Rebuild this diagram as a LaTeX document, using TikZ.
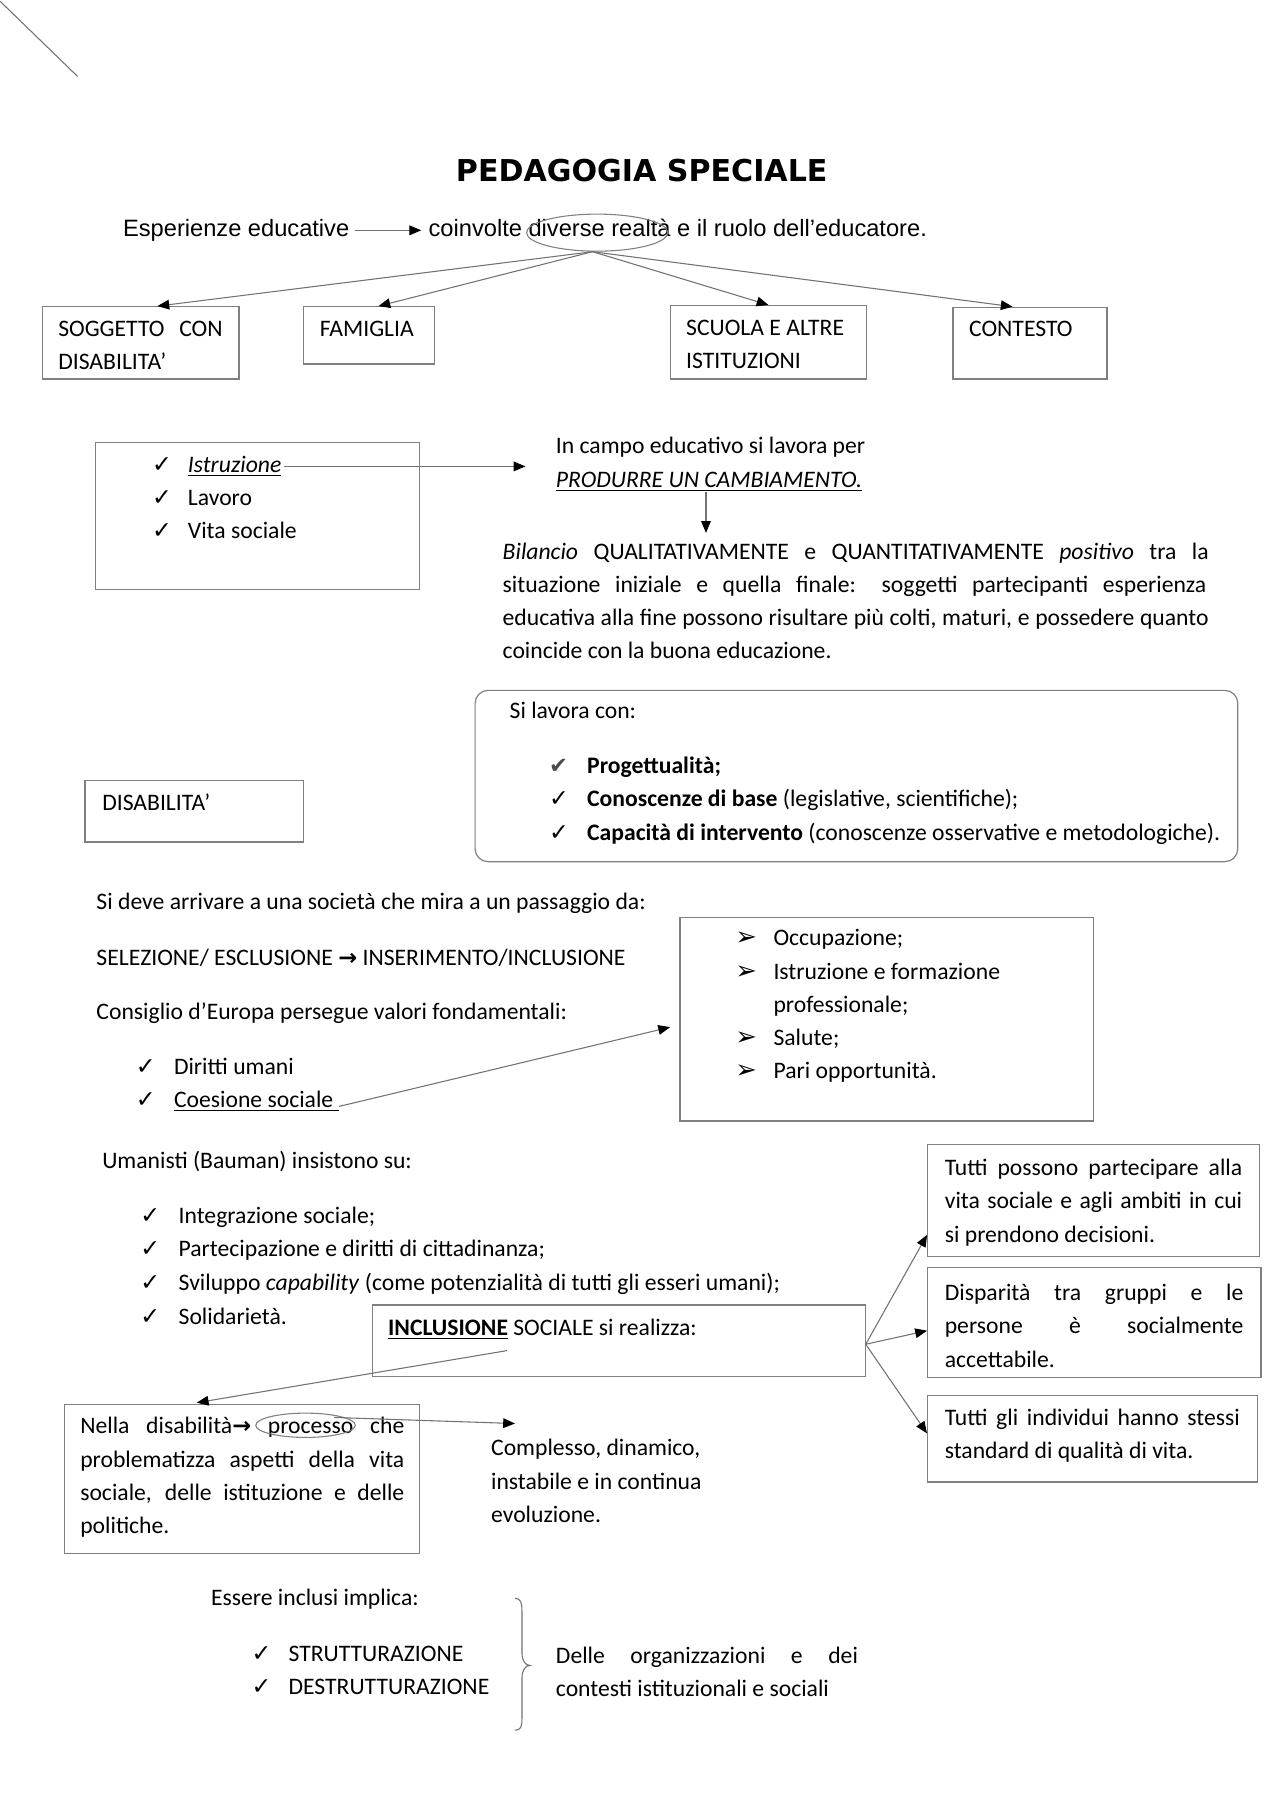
\documentclass[tikz,border=0pt]{standalone}
\usepackage{fontspec}
\setmainfont{Carlito}
\newfontfamily\arialf{Liberation Sans}
\newfontfamily\djv{DejaVu Sans}
\usetikzlibrary{arrows.meta,calc,shapes.geometric}
\newlength\pxu \setlength\pxu{0.53823pt}
\newcommand\jl[2]{\makebox[#1\pxu][s]{#2}}
\newcommand\mychk{{\djv\fontsize{11pt}{12pt}\selectfont ✓}}
\newcommand\mychkb{{\djv\fontsize{10.5pt}{12pt}\selectfont\color{black!70}✔}}
\newcommand\mybul{{\djv\fontsize{12pt}{12pt}\selectfont ➢}}
\newcommand\myarr{{\djv\bfseries\fontsize{10.5pt}{10pt}\selectfont →}}
\tikzset{
  txt/.style={inner sep=0pt, anchor=base west, font=\fontsize{11pt}{15.4pt}\selectfont},
  boxst/.style={draw=black!50, line width=0.55pt, inner sep=0pt, anchor=north west},
  arr/.style={draw=black!55, line width=0.5pt, -{Triangle[length=5.5pt,width=4.5pt,color=black]}},
  plainline/.style={draw=black!55, line width=0.5pt},
}
\begin{document}
\begin{tikzpicture}[x=0.53823pt, y=-0.53823pt]
\useasboundingbox[fill=white] (0,0) rectangle (1106,1564.8);

% corner mark
\coordinate (cm1) at (0,1);
\coordinate (cm2) at (67,66);
\draw[plainline] (cm1) -- (cm2);

% title
\node[inner sep=0pt, anchor=base, font=\djv\bfseries\fontsize{14pt}{17pt}\selectfont] (title) at (554.5,157) {PEDAGOGIA SPECIALE};

% first line
\node[txt, font=\arialf\fontsize{11pt}{13pt}\selectfont] (esp) at (106,204) {Esperienze educative};
\node[txt, font=\arialf\fontsize{11pt}{13pt}\selectfont] (coin) at (370,204) {coinvolte diverse realtà e il ruolo dell’educatore.};
\draw[arr] ($(esp.base east)+(5,-5)$) -- ($(coin.base west)+(-6,-5)$);
\node[draw=black!50, line width=0.5pt, ellipse, minimum width=122\pxu, minimum height=32\pxu, inner sep=0pt] (ell) at (516,201) {};

% four boxes
\node[boxst, minimum width=170\pxu, minimum height=62.5\pxu] (b1) at (36,264.5) {};
\node[boxst, minimum width=113\pxu, minimum height=49.5\pxu] (b2) at (262,264.5) {};
\node[boxst, minimum width=169\pxu, minimum height=63.5\pxu] (b3) at (579,263.5) {};
\node[boxst, minimum width=133\pxu, minimum height=62\pxu] (b4) at (823,265) {};
\node[txt] (t1) at (50,291) {\parbox[t]{142\pxu}{\jl{142}{SOGGETTO CON}\\DISABILITA’}};
\node[txt] (t2) at (276,291) {FAMIGLIA};
\node[txt] (t3) at (592.5,290) {\parbox[t]{150\pxu}{SCUOLA E ALTRE\\ISTITUZIONI}};
\node[txt] (t4) at (837,291) {CONTESTO};
\coordinate (fan) at ($(ell.south)+(-4,0)$);
\draw[arr] (fan) -- ($(b1.north west)+(100,0)$);
\draw[arr] (fan) -- ($(b2.north west)+(65,0)$);
\draw[arr] (fan) -- ($(b3.north west)+(85,0)$);
\draw[arr] (fan) -- ($(b4.north west)+(52,0)$);

% Istruzione box
\node[boxst, minimum width=280\pxu, minimum height=127\pxu] (bist) at (82,382) {};
\node[txt] (c1) at (131,408) {\mychk};
\node[txt] (c2) at (131,437) {\mychk};
\node[txt] (c3) at (131,465) {\mychk};
\node[txt] (istr) at (162,408) {\underline{\textit{Istruzione}}};
\node[txt] (lav) at (162,437) {Lavoro};
\node[txt] (vita) at (162,465) {Vita sociale};

\node[txt] (campo) at (480,392) {In campo educativo si lavora per};
\node[txt] (prod) at (480,421) {\underline{\textit{PRODURRE UN CAMBIAMENTO.}}};
\draw[arr] ($(istr.base east)+(2,-5)$) -- ($(campo.base west)+(-26,11)$);
\node[txt] (bil) at (434,483) {\parbox[t]{620\pxu}{%
\jl{610}{\textit{Bilancio} QUALITATIVAMENTE e QUANTITATIVAMENTE \textit{positivo} tra la}\\
\jl{608}{situazione iniziale e quella finale: soggetti partecipanti esperienza}\\
\jl{610}{educativa alla fine possono risultare più colti, maturi, e possedere quanto}\\
coincide con la buona educazione.}};
\draw[arr] ($(prod.base west)+(130,4)$) -- ($(bil.north west)+(176,-8)$);

% rounded box
\node[boxst, rounded corners=6pt, minimum width=659\pxu, minimum height=148\pxu] (brd) at (410,596) {};
\node[txt] (silav) at (440,621) {Si lavora con:};
\node[txt] (k1) at (474,668) {\mychkb};
\node[txt] (k2) at (474,697) {\mychk};
\node[txt] (k3) at (474,726) {\mychk};
\node[txt] (p1) at (507,668) {\textbf{Progettualità;}};
\node[txt] (p2) at (507,697) {\textbf{Conoscenze di base} (legislative, scientifiche);};
\node[txt] (p3) at (507,726) {\textbf{Capacità di intervento} (conoscenze osservative e metodologiche).};

% disabilita box
\node[boxst, minimum width=189\pxu, minimum height=53\pxu] (bdis) at (73,674) {};
\node[txt] (tdis) at (88,700) {DISABILITA’};

% societa
\node[txt] (sideve) at (83,786) {Si deve arrivare a una società che mira a un passaggio da:};
\node[txt] (selez) at (83,834) {SELEZIONE/ ESCLUSIONE \myarr{} INSERIMENTO/INCLUSIONE};
\node[txt] (consi) at (83,881) {Consiglio d’Europa persegue valori fondamentali:};
\node[txt] (d1) at (117,928) {\mychk};
\node[txt] (d2) at (117,957) {\mychk};
\node[txt] (dir) at (150,928) {Diritti umani};
\node[txt] (coes) at (150,957) {\underline{Coesione sociale\ }};

% occupazione box
\node[boxst, minimum width=357\pxu, minimum height=176\pxu] (bocc) at (587,792) {};
\node[txt] (o1) at (635,817) {\mybul};
\node[txt] (o2) at (635,846) {\mybul};
\node[txt] (o4) at (635,903) {\mybul};
\node[txt] (o5) at (635,932) {\mybul};
\node[txt] (occ) at (668,817) {Occupazione;};
\node[txt] (istf) at (668,846) {\parbox[t]{250\pxu}{Istruzione e formazione\\professionale;}};
\node[txt] (sal) at (668,903) {Salute;};
\node[txt] (pari) at (668,932) {Pari opportunità.};
\draw[arr] ($(coes.base east)+(0,-1)$) -- ($(bocc.west)+(-8,7)$);

% umanisti
\node[txt] (uman) at (88,1010) {Umanisti (Bauman) insistono su:};
\node[txt] (u1) at (121,1057) {\mychk};
\node[txt] (u2) at (121,1086) {\mychk};
\node[txt] (u3) at (121,1115) {\mychk};
\node[txt] (u4) at (121,1144) {\mychk};
\node[txt] (int) at (154,1057) {Integrazione sociale;};
\node[txt] (part) at (154,1086) {Partecipazione e diritti di cittadinanza;};
\node[txt] (svil) at (154,1115) {Sviluppo \textit{capability} (come potenzialità di tutti gli esseri umani);};
\node[txt] (soli) at (154,1144) {Solidarietà.};

% inclusione box
\node[boxst, minimum width=426\pxu, minimum height=62\pxu] (bincl) at (321,1127) {};
\node[txt] (incl) at (335,1154) {\textbf{\underline{INCLUSIONE}} SOCIALE si realizza:};

% right boxes
\node[boxst, minimum width=287\pxu, minimum height=96.5\pxu] (ba) at (801,988.5) {};
\node[boxst, minimum width=288\pxu, minimum height=94.5\pxu] (bb) at (801,1095) {};
\node[boxst, minimum width=285\pxu, minimum height=75\pxu] (bc) at (801,1205) {};
\node[txt] (ta) at (816,1016) {\parbox[t]{262\pxu}{%
\jl{257}{Tutti possono partecipare alla}\\
\jl{257}{vita sociale e agli ambiti in cui}\\
si prendono decisioni.}};
\node[txt] (tb) at (816,1124) {\parbox[t]{262\pxu}{%
\jl{258}{Disparità tra gruppi e le}\\
\jl{258}{persone è socialmente}\\
accettabile.}};
\node[txt] (tc) at (816,1232) {\parbox[t]{262\pxu}{%
\jl{255}{Tutti gli individui hanno stessi}\\
standard di qualità di vita.}};
\coordinate (inr) at ($(bincl.east)+(0,3)$);
\draw[arr] (inr) -- ($(ba.south west)+(0,-19)$);
\draw[arr] (inr) -- ($(bb.west)+(0,7)$);
\draw[arr] (inr) -- ($(bc.west)+(0,-4.5)$);

% nella box
\node[boxst, minimum width=307\pxu, minimum height=129\pxu] (bnel) at (55,1213) {};
\node[txt] (tnel) at (69,1239) {\parbox[t]{290\pxu}{%
\jl{280}{Nella disabilità\myarr{} processo che}\\
\jl{280}{problematizza aspetti della vita}\\
\jl{280}{sociale, delle istituzione e delle}\\
politiche.}};
\node[draw=black!50, line width=0.5pt, ellipse, minimum width=86\pxu, minimum height=21\pxu, inner sep=0pt] (eproc) at (264,1231.5) {};
\draw[arr] ($(incl.base west)+(103,13)$) -- ($(bnel.north west)+(115,-1)$);
\node[txt] (compl) at (424,1258) {\parbox[t]{250\pxu}{Complesso, dinamico,\\instabile e in continua\\evoluzione.}};
\draw[arr] ($(eproc.north east)+(-6,1)$) -- ($(compl.base west)+(21,-28)$);

% essere inclusi
\node[txt] (ess) at (182,1387) {Essere inclusi implica:};
\node[txt] (e1) at (217,1436) {\mychk};
\node[txt] (e2) at (217,1464) {\mychk};
\node[txt] (strut) at (249,1436) {STRUTTURAZIONE};
\node[txt] (destr) at (249,1464) {DESTRUTTURAZIONE};
\draw[plainline] (445,1381) .. controls (450,1381) and (451,1385) .. (451,1392) -- (451,1428)
  .. controls (451,1435) and (454,1439) .. (458,1439)
  .. controls (454,1439) and (451,1443) .. (451,1450) -- (451,1485)
  .. controls (451,1492) and (450,1495) .. (445,1495);
\node[txt] (delle) at (480,1437) {\parbox[t]{270\pxu}{%
\jl{261}{Delle organizzazioni e dei}\\
contesti istituzionali e sociali}};
\end{tikzpicture}
\end{document}
